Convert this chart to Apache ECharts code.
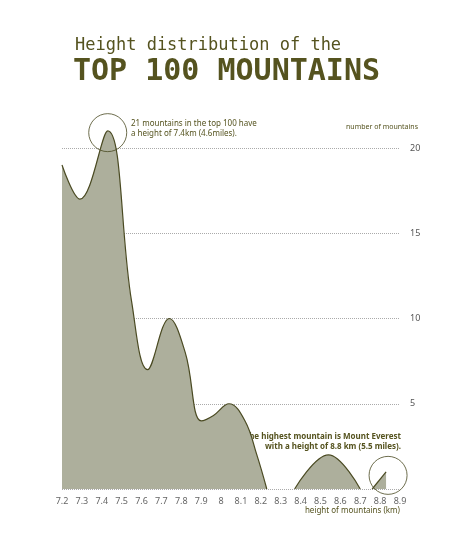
<!DOCTYPE html><html><head><meta charset="utf-8"><script src="https://cdn.jsdelivr.net/npm/echarts@6/dist/echarts.min.js"></script>
<style>html,body{margin:0;background:#fff}#c{width:474px;height:537px}</style></head><body><div id="c"></div><script>
const mainRange = [[7.2,19],[7.29,17],[7.43,21],[7.55,11],[7.63,7],[7.74,10],[7.82,8],[7.9,4],[7.96,4.3],[8.04,5],[8.12,4],[8.18,2],[8.23,0]];
const midHill = [[8.37,0],[8.54,2],[8.7,0]];
const everest = [[8.76,0],[8.83,1]];
const xTicks = ['7.2','7.3','7.4','7.5','7.6','7.7','7.8','7.9','8','8.1','8.2','8.3','8.4','8.5','8.6','8.7','8.8','8.9'];
const highlights = [[7.43,20.9],[8.84,0.8]];
const dark='#4a4a22', fill='#adaf9c', txt='#55531f';
function ser(d){return {type:'line',data:d,smooth:0.4,symbol:'none',clip:false,lineStyle:{color:dark,width:1.2},areaStyle:{color:fill,opacity:1}};}
const chart=echarts.init(document.getElementById('c'));
const s=[ser(mainRange),ser(midHill),ser(everest),
 {type:'scatter',data:highlights,clip:false,symbol:'circle',symbolSize:38,silent:true,z:5,itemStyle:{color:'transparent',borderColor:dark,borderWidth:1}}];
chart.setOption({
 animation:false,
 title:[{text:'Height distribution of the',left:70,top:32,textStyle:{fontFamily:'DejaVu Sans Mono',fontSize:17,fontWeight:'normal',color:txt}},
        {text:'TOP 100 MOUNTAINS',left:68,top:52,textStyle:{fontFamily:'DejaVu Sans Mono',fontSize:30,fontWeight:'bold',color:txt}}],
 grid:{left:62,right:74,top:148,bottom:48},
 xAxis:{type:'value',min:7.2,max:8.9,interval:0.1,axisLine:{show:false},axisTick:{show:false},splitLine:{show:false},
   axisLabel:{color:'#666',fontSize:9,fontFamily:'Noto Sans',margin:8,formatter:v=>xTicks[Math.round((v-7.2)*10)]},
   name:'height of mountains (km)',nameLocation:'end',nameGap:0,nameTextStyle:{color:txt,fontSize:8,fontFamily:'Noto Sans',align:'right',verticalAlign:'top',padding:[18,0,0,0]}},
 yAxis:{type:'value',position:'right',min:0,max:20,interval:5,axisLine:{show:false},axisTick:{show:false},
   axisLabel:{color:'#555',fontSize:9,fontFamily:'Noto Sans',margin:10,formatter:v=>v===0?'':v},
   splitLine:{lineStyle:{type:'dotted',color:'#aaa'}},
   name:'number of mountains',nameGap:18,nameTextStyle:{color:txt,fontSize:7,fontFamily:'Noto Sans',align:'right',padding:[0,-18,0,0]}},
 graphic:[
  {type:'text',x:131,y:119,style:{text:'21 mountains in the top 100 have\na height of 7.4km (4.6miles).',fill:txt,font:'8px "Noto Sans"',lineHeight:10}},
  {type:'text',x:401,y:432,style:{text:'The highest mountain is Mount Everest\nwith a height of 8.8 km (5.5 miles).',fill:txt,font:'bold 8px "Noto Sans"',lineHeight:10,textAlign:'right'}}
 ],
 series:s
});
</script></body></html>
